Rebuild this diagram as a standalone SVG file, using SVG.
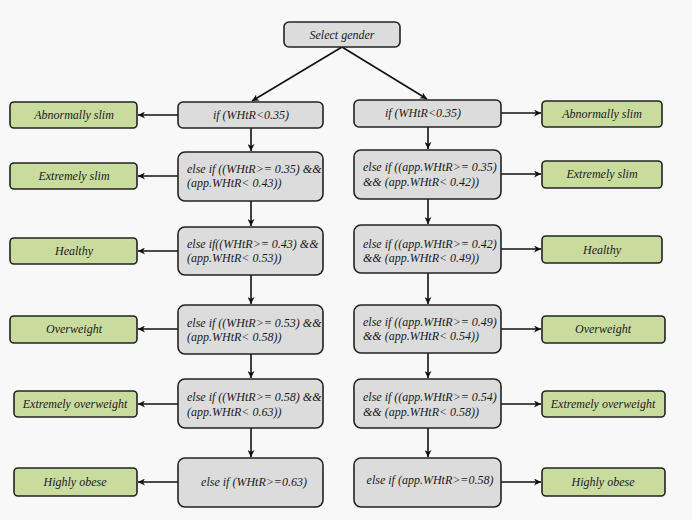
<svg xmlns="http://www.w3.org/2000/svg" width="692" height="520" viewBox="0 0 692 520">
<defs>
<marker id="ah" viewBox="0 0 10 10" refX="10" refY="5" markerWidth="7" markerHeight="7" markerUnits="userSpaceOnUse" orient="auto">
<path d="M0,0 L10,5 L0,10 L3,5 Z" fill="#111"/>
</marker>
</defs>
<style>
.g{fill:#dcdcdc;stroke:#222;stroke-width:1.6}
.r{fill:#c9dc9e;stroke:#222;stroke-width:1.6}
.c{text-anchor:middle}
.e{stroke:#111;stroke-width:1.6;fill:none;marker-end:url(#ah)}
</style>
<rect width="692" height="520" fill="#f8f8f8"/>
<g id="connectors">
<line class="e" x1="342" y1="47" x2="252" y2="101"/>
<line class="e" x1="342" y1="47" x2="427" y2="99"/>
<line class="e" x1="251" y1="128" x2="251" y2="151"/>
<line class="e" x1="251" y1="201" x2="251" y2="226"/>
<line class="e" x1="251" y1="275" x2="251" y2="304"/>
<line class="e" x1="251" y1="354" x2="251" y2="378"/>
<line class="e" x1="251" y1="428" x2="251" y2="457"/>
<line class="e" x1="428" y1="127" x2="428" y2="149"/>
<line class="e" x1="428" y1="199" x2="428" y2="224"/>
<line class="e" x1="428" y1="273" x2="428" y2="304"/>
<line class="e" x1="428" y1="353" x2="428" y2="378"/>
<line class="e" x1="428" y1="428" x2="428" y2="457"/>
<line class="e" x1="178" y1="115" x2="138" y2="115"/>
<line class="e" x1="178" y1="176" x2="138" y2="176"/>
<line class="e" x1="178" y1="251" x2="138" y2="251"/>
<line class="e" x1="178" y1="329" x2="138" y2="329"/>
<line class="e" x1="178" y1="404" x2="138" y2="404"/>
<line class="e" x1="178" y1="482" x2="138" y2="482"/>
<line class="e" x1="501" y1="113" x2="541" y2="113"/>
<line class="e" x1="501" y1="174" x2="541" y2="174"/>
<line class="e" x1="501" y1="249" x2="541" y2="249"/>
<line class="e" x1="501" y1="329" x2="541" y2="329"/>
<line class="e" x1="501" y1="404" x2="541" y2="404"/>
<line class="e" x1="501" y1="482" x2="541" y2="482"/>
</g>
<g font-family="Liberation Serif" font-style="italic" font-size="12" fill="#1a1a1a" xml:space="preserve">
<g id="select-gender"><rect class="g" x="284" y="22" width="116" height="25" rx="5"/><text class="c" x="342" y="39">Select gender</text></g>
<g id="L1"><rect class="g" x="178" y="102" width="145" height="26" rx="5"/><text class="c" x="251" y="119">if  (WHtR&lt;0.35)</text></g>
<g id="L2"><rect class="g" x="178" y="152" width="145" height="49" rx="7"/><text x="187" y="173">else if ((WHtR&gt;= 0.35) &amp;&amp;</text><text x="187" y="187">(app.WHtR&lt; 0.43))</text></g>
<g id="L3"><rect class="g" x="178" y="227" width="145" height="48" rx="7"/><text x="187" y="248">else if((WHtR&gt;= 0.43) &amp;&amp;</text><text x="187" y="262">(app.WHtR&lt; 0.53))</text></g>
<g id="L4"><rect class="g" x="178" y="305" width="145" height="49" rx="7"/><text x="187" y="327">else if ((WHtR&gt;= 0.53) &amp;&amp;</text><text x="187" y="341">(app.WHtR&lt; 0.58))</text></g>
<g id="L5"><rect class="g" x="178" y="379" width="145" height="49" rx="7"/><text x="187" y="401">else if ((WHtR&gt;= 0.58) &amp;&amp;</text><text x="187" y="416">(app.WHtR&lt; 0.63))</text></g>
<g id="L6"><rect class="g" x="178" y="458" width="145" height="49" rx="7"/><text class="c" x="254" y="486">else if (WHtR&gt;=0.63)</text></g>
<g id="R1"><rect class="g" x="354" y="100" width="147" height="27" rx="5"/><text class="c" x="423" y="117">if (WHtR&lt;0.35)</text></g>
<g id="R2"><rect class="g" x="354" y="150" width="147" height="49" rx="7"/><text x="363" y="171">else if ((app.WHtR&gt;= 0.35)</text><text x="363" y="186">&amp;&amp; (app.WHtR&lt; 0.42))</text></g>
<g id="R3"><rect class="g" x="354" y="225" width="147" height="48" rx="7"/><text x="363" y="248">else if ((app.WHtR&gt;= 0.42)</text><text x="363" y="262">&amp;&amp; (app.WHtR&lt; 0.49))</text></g>
<g id="R4"><rect class="g" x="354" y="305" width="147" height="48" rx="7"/><text x="363" y="326">else if ((app.WHtR&gt;= 0.49)</text><text x="363" y="340">&amp;&amp; (app.WHtR&lt; 0.54))</text></g>
<g id="R5"><rect class="g" x="354" y="379" width="147" height="49" rx="7"/><text x="363" y="401">else if ((app.WHtR&gt;= 0.54)</text><text x="363" y="416">&amp;&amp; (app.WHtR&lt; 0.58))</text></g>
<g id="R6"><rect class="g" x="354" y="458" width="147" height="49" rx="7"/><text class="c" x="430" y="484">else if (app.WHtR&gt;=0.58)</text></g>
<g id="GL1"><rect class="r" x="10" y="102" width="127" height="26" rx="4"/><text class="c" x="74" y="119">Abnormally slim</text></g>
<g id="GL2"><rect class="r" x="10" y="163" width="127" height="26" rx="4"/><text class="c" x="74" y="180">Extremely slim</text></g>
<g id="GL3"><rect class="r" x="10" y="238" width="127" height="26" rx="4"/><text class="c" x="74" y="255">Healthy</text></g>
<g id="GL4"><rect class="r" x="10" y="316" width="127" height="27" rx="4"/><text class="c" x="74" y="333">Overweight</text></g>
<g id="GL5"><rect class="r" x="14" y="391" width="123" height="26" rx="4"/><text class="c" x="75" y="408">Extremely overweight</text></g>
<g id="GL6"><rect class="r" x="14" y="468" width="123" height="28" rx="4"/><text class="c" x="75" y="486">Highly obese</text></g>
<g id="GR1"><rect class="r" x="542" y="101" width="120" height="26" rx="4"/><text class="c" x="602" y="118">Abnormally slim</text></g>
<g id="GR2"><rect class="r" x="542" y="161" width="120" height="27" rx="4"/><text class="c" x="602" y="178">Extremely slim</text></g>
<g id="GR3"><rect class="r" x="542" y="236" width="120" height="27" rx="4"/><text class="c" x="602" y="254">Healthy</text></g>
<g id="GR4"><rect class="r" x="542" y="316" width="123" height="27" rx="4"/><text class="c" x="603" y="333">Overweight</text></g>
<g id="GR5"><rect class="r" x="542" y="391" width="123" height="26" rx="4"/><text class="c" x="603" y="408">Extremely overweight</text></g>
<g id="GR6"><rect class="r" x="542" y="468" width="123" height="28" rx="4"/><text class="c" x="603" y="486">Highly obese</text></g>
</g>
</svg>
